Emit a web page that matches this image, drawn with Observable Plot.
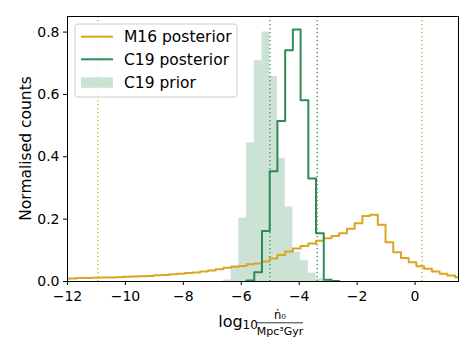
<!DOCTYPE html>
<html>
<head>
<meta charset="utf-8">
<script src="https://cdn.jsdelivr.net/npm/d3@7"></script>
<script src="https://cdn.jsdelivr.net/npm/@observablehq/plot@0.6"></script>
<style>
  body { margin: 0; background: #fff; }
  svg { font-family: "DejaVu Sans", sans-serif; }
</style>
</head>
<body>
<div id="chart"></div>
<script>
// ---- data ----
// shared histogram bin edges (log10 rate)
const binEdges = [-12.217, -11.95, -11.683, -11.417, -11.150, -10.883, -10.617, -10.350, -10.083,
  -9.817, -9.550, -9.284, -9.017, -8.751, -8.484, -8.218, -7.951, -7.684, -7.418, -7.151, -6.885,
  -6.618, -6.351, -6.085, -5.818, -5.552, -5.285, -5.018, -4.752, -4.485, -4.219, -3.952, -3.685,
  -3.419, -3.152, -2.886, -2.619, -2.352, -2.086, -1.819, -1.553, -1.286, -1.019, -0.753, -0.486,
  -0.220, 0.047, 0.313, 0.580, 0.847, 1.113, 1.380, 1.647];

// M16 posterior, one value per bin starting at the first edge
const m16Posterior = [0.009, 0.010, 0.011, 0.011, 0.012, 0.013, 0.013, 0.014, 0.015, 0.016, 0.017,
  0.018, 0.020, 0.021, 0.023, 0.025, 0.027, 0.029, 0.032, 0.035, 0.039, 0.044, 0.047, 0.050, 0.055,
  0.058, 0.064, 0.074, 0.085, 0.096, 0.106, 0.114, 0.122, 0.131, 0.139, 0.146, 0.155, 0.169, 0.187,
  0.210, 0.214, 0.182, 0.126, 0.094, 0.075, 0.062, 0.049, 0.041, 0.032, 0.025, 0.019, 0.014];

// C19 prior: first bin index into binEdges, then values
const c19PriorStart = 21;
const c19Prior = [0.005, 0.050, 0.203, 0.445, 0.708, 0.800, 0.658, 0.395, 0.239, 0.094, 0.067, 0.027, 0.009, 0.003];

// C19 posterior
const c19PosteriorStart = 24;
const c19Posterior = [0.003, 0.030, 0.162, 0.354, 0.515, 0.742, 0.808, 0.581, 0.330, 0.155, 0.006, 0.002];

// credible-interval markers
const m16Interval = [-10.95, 0.24];
const c19Interval = [-5.01, -3.38];

const xTicks = [-12, -10, -8, -6, -4, -2, 0];
const yTicks = [0, 0.2, 0.4, 0.6, 0.8];
const legendLabels = ["M16 posterior", "C19 posterior", "C19 prior"];

// ---- styles ----
const orange = "#daa520";
const green = "#2e8b57";

// ---- derived tables ----
function stepPoints(start, values) {
  const pts = [{x: binEdges[start], y: 0}];
  values.forEach((v, i) => pts.push({x: binEdges[start + i], y: v}));
  const end = binEdges[start + values.length];
  pts.push({x: end, y: values[values.length - 1]});
  pts.push({x: end, y: 0});
  return pts;
}
const m16Step = stepPoints(0, m16Posterior);
const postStep = stepPoints(c19PosteriorStart, c19Posterior);
const priorRows = c19Prior.map((v, i) => ({
  x1: binEdges[c19PriorStart + i], x2: binEdges[c19PriorStart + i + 1], y: v
}));

const W = 474, H = 355;
const chart = Plot.plot({
  width: W, height: H,
  marginLeft: 67, marginRight: 16, marginTop: 16, marginBottom: 74,
  style: {fontFamily: "DejaVu Sans, sans-serif", fontSize: "14px", color: "black", background: "white", overflow: "visible"},
  x: {domain: [-12, 1.5]},
  y: {domain: [0, 0.85]},
  marks: [
    Plot.rectY(priorRows, {x1: "x1", x2: "x2", y: "y", fill: green, fillOpacity: 0.25, clip: true}),
    Plot.ruleX(m16Interval, {stroke: orange, strokeWidth: 1.3, strokeDasharray: "1.3,2.7"}),
    Plot.ruleX(c19Interval, {stroke: green, strokeWidth: 1.3, strokeDasharray: "1.3,2.7"}),
    Plot.line(m16Step, {x: "x", y: "y", curve: "step-after", stroke: orange, strokeWidth: 2, clip: true}),
    Plot.line(postStep, {x: "x", y: "y", curve: "step-after", stroke: green, strokeWidth: 2, clip: true}),
    Plot.axisX({ticks: xTicks, tickSize: 4, tickPadding: 6, label: null, tickFormat: d => d3.format("d")(d)}),
    Plot.axisY({ticks: yTicks, tickSize: 4, tickPadding: 4, label: null, tickFormat: d3.format(".1f")}),
    Plot.frame({stroke: "black", strokeWidth: 1})
  ]
});
document.getElementById("chart").appendChild(chart);

// ---- labels and legend ----
const svg = d3.select(chart);
const ff = "DejaVu Sans, sans-serif";

// y label
svg.append("text")
  .attr("transform", "translate(30.5,148.5) rotate(-90)")
  .attr("text-anchor", "middle")
  .attr("font-family", ff).attr("font-size", 15.5).attr("fill", "black")
  .text("Normalised counts");

// x label: log10 (n-dot_0 / Mpc^3 Gyr)
const xl = svg.append("g").attr("font-family", ff).attr("fill", "black").attr("text-anchor", "start");
xl.append("text").attr("x", 218.3).attr("y", 326.5).attr("font-size", 16).attr("text-anchor", "start").text("log");
xl.append("text").attr("x", 242.5).attr("y", 328.5).attr("font-size", 12).attr("text-anchor", "start").text("10");
xl.append("text").attr("x", 280).attr("y", 318.5).attr("font-size", 11.5).attr("text-anchor", "middle").text("ṅ₀");
xl.append("line").attr("x1", 257).attr("x2", 303).attr("y1", 322.8).attr("y2", 322.8)
  .attr("stroke", "black").attr("stroke-width", 0.8);
xl.append("text").attr("x", 280).attr("y", 334.5).attr("font-size", 11).attr("text-anchor", "middle").text("Mpc³Gyr");

// legend
const lg = svg.append("g").attr("font-family", ff).attr("text-anchor", "start");
lg.append("rect").attr("x", 75).attr("y", 24).attr("width", 162).attr("height", 73)
  .attr("rx", 3).attr("fill", "white").attr("fill-opacity", 0.8)
  .attr("stroke", "#cccccc").attr("stroke-width", 1);
const rowsY = [36.7, 59.3, 82.3];
lg.append("line").attr("x1", 81).attr("x2", 113).attr("y1", rowsY[0]).attr("y2", rowsY[0])
  .attr("stroke", orange).attr("stroke-width", 2);
lg.append("line").attr("x1", 81).attr("x2", 113).attr("y1", rowsY[1]).attr("y2", rowsY[1])
  .attr("stroke", green).attr("stroke-width", 2);
lg.append("rect").attr("x", 81).attr("y", rowsY[2] - 5).attr("width", 32).attr("height", 10.5)
  .attr("fill", green).attr("fill-opacity", 0.25);
legendLabels.forEach((t, i) => {
  lg.append("text").attr("x", 124).attr("y", rowsY[i]).attr("dy", "0.36em")
    .attr("text-anchor", "start")
    .attr("font-size", 15.5).attr("fill", "black").text(t);
});
</script>
</body>
</html>
